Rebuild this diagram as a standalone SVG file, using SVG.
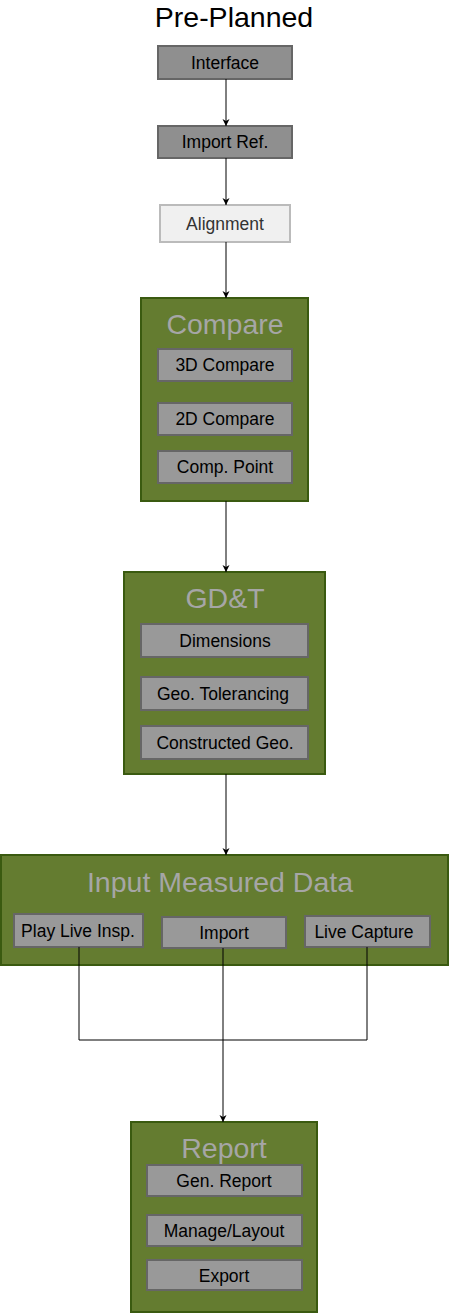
<svg xmlns="http://www.w3.org/2000/svg" width="465" height="1314" viewBox="0 0 465 1314">
<defs>
<style>
text{font-family:"Liberation Sans",Arial,sans-serif;text-anchor:middle;dominant-baseline:central}
.top{fill:#8f8f8f;stroke:#666;stroke-width:2}
.item{fill:#999;stroke:#666;stroke-width:2}
.grp{fill:#647c30;stroke:#3a5a10;stroke-width:2}
.lbl{font-size:17.5px;fill:#000}
.gt{font-size:28.5px;fill:#a6a6a6}
.edge{fill:none;stroke:#000;stroke-width:1}
</style>
<marker id="arr" markerWidth="8" markerHeight="8" refX="7" refY="4" orient="auto" markerUnits="userSpaceOnUse">
<path d="M0,0.5 L7,4 L0,7.5 L2,4 Z" fill="#000"/>
</marker>
</defs>
<rect width="465" height="1314" fill="#fff"/>
<text x="234" y="17" style="font-size:28.5px;fill:#000">Pre-Planned</text>
<g id="interface"><rect class="top" x="158" y="46" width="134" height="33"/><text class="lbl" x="225" y="63">Interface</text></g>
<g id="importref"><rect class="top" x="158" y="126" width="134" height="32"/><text class="lbl" x="225" y="142">Import Ref.</text></g>
<g id="alignment"><rect x="160" y="205" width="130" height="37" fill="#f0f0f0" stroke="#bbb" stroke-width="2"/><text class="lbl" x="225" y="224" style="fill:#333">Alignment</text></g>
<g id="compare">
<rect class="grp" x="141" y="298" width="167" height="203"/>
<text class="gt" x="225" y="324">Compare</text>
<rect class="item" x="158" y="349" width="134" height="32"/><text class="lbl" x="225" y="365">3D Compare</text>
<rect class="item" x="158" y="403" width="134" height="32"/><text class="lbl" x="225" y="419">2D Compare</text>
<rect class="item" x="158" y="451" width="134" height="32"/><text class="lbl" x="225" y="467">Comp. Point</text>
</g>
<g id="gdt">
<rect class="grp" x="124" y="572" width="201" height="202"/>
<text class="gt" x="225" y="598">GD&amp;T</text>
<rect class="item" x="141" y="624" width="167" height="33"/><text class="lbl" x="225" y="641">Dimensions</text>
<rect class="item" x="141" y="677" width="167" height="33"/><text class="lbl" x="223" y="694">Geo. Tolerancing</text>
<rect class="item" x="141" y="726" width="167" height="33"/><text class="lbl" x="225" y="743">Constructed Geo.</text>
</g>
<g id="input">
<rect class="grp" x="1" y="855" width="447" height="110"/>
<text class="gt" x="220" y="882">Input Measured Data</text>
<rect class="item" x="14" y="914" width="129" height="33"/><text class="lbl" x="78" y="931">Play Live Insp.</text>
<rect class="item" x="162" y="917" width="124" height="31"/><text class="lbl" x="224" y="933">Import</text>
<rect class="item" x="305" y="916" width="125" height="31"/><text class="lbl" x="364" y="932">Live Capture</text>
</g>
<g id="report">
<rect class="grp" x="131" y="1122" width="186" height="190"/>
<text class="gt" x="224" y="1148">Report</text>
<rect class="item" x="147" y="1165" width="155" height="31"/><text class="lbl" x="224" y="1181">Gen. Report</text>
<rect class="item" x="147" y="1215" width="155" height="31"/><text class="lbl" x="224" y="1231">Manage/Layout</text>
<rect class="item" x="147" y="1260" width="155" height="30"/><text class="lbl" x="224" y="1276">Export</text>
</g>
<g id="connectors">
<path class="edge" d="M226,79 V126" marker-end="url(#arr)"/>
<path class="edge" d="M226,158 V205" marker-end="url(#arr)"/>
<path class="edge" d="M226,242 V298" marker-end="url(#arr)"/>
<path class="edge" d="M226,501 V572" marker-end="url(#arr)"/>
<path class="edge" d="M226,774 V855" marker-end="url(#arr)"/>
<path class="edge" d="M223,948 V1122" marker-end="url(#arr)"/>
<path class="edge" d="M79,947 V1040 H367 V947"/>
</g>
</svg>
